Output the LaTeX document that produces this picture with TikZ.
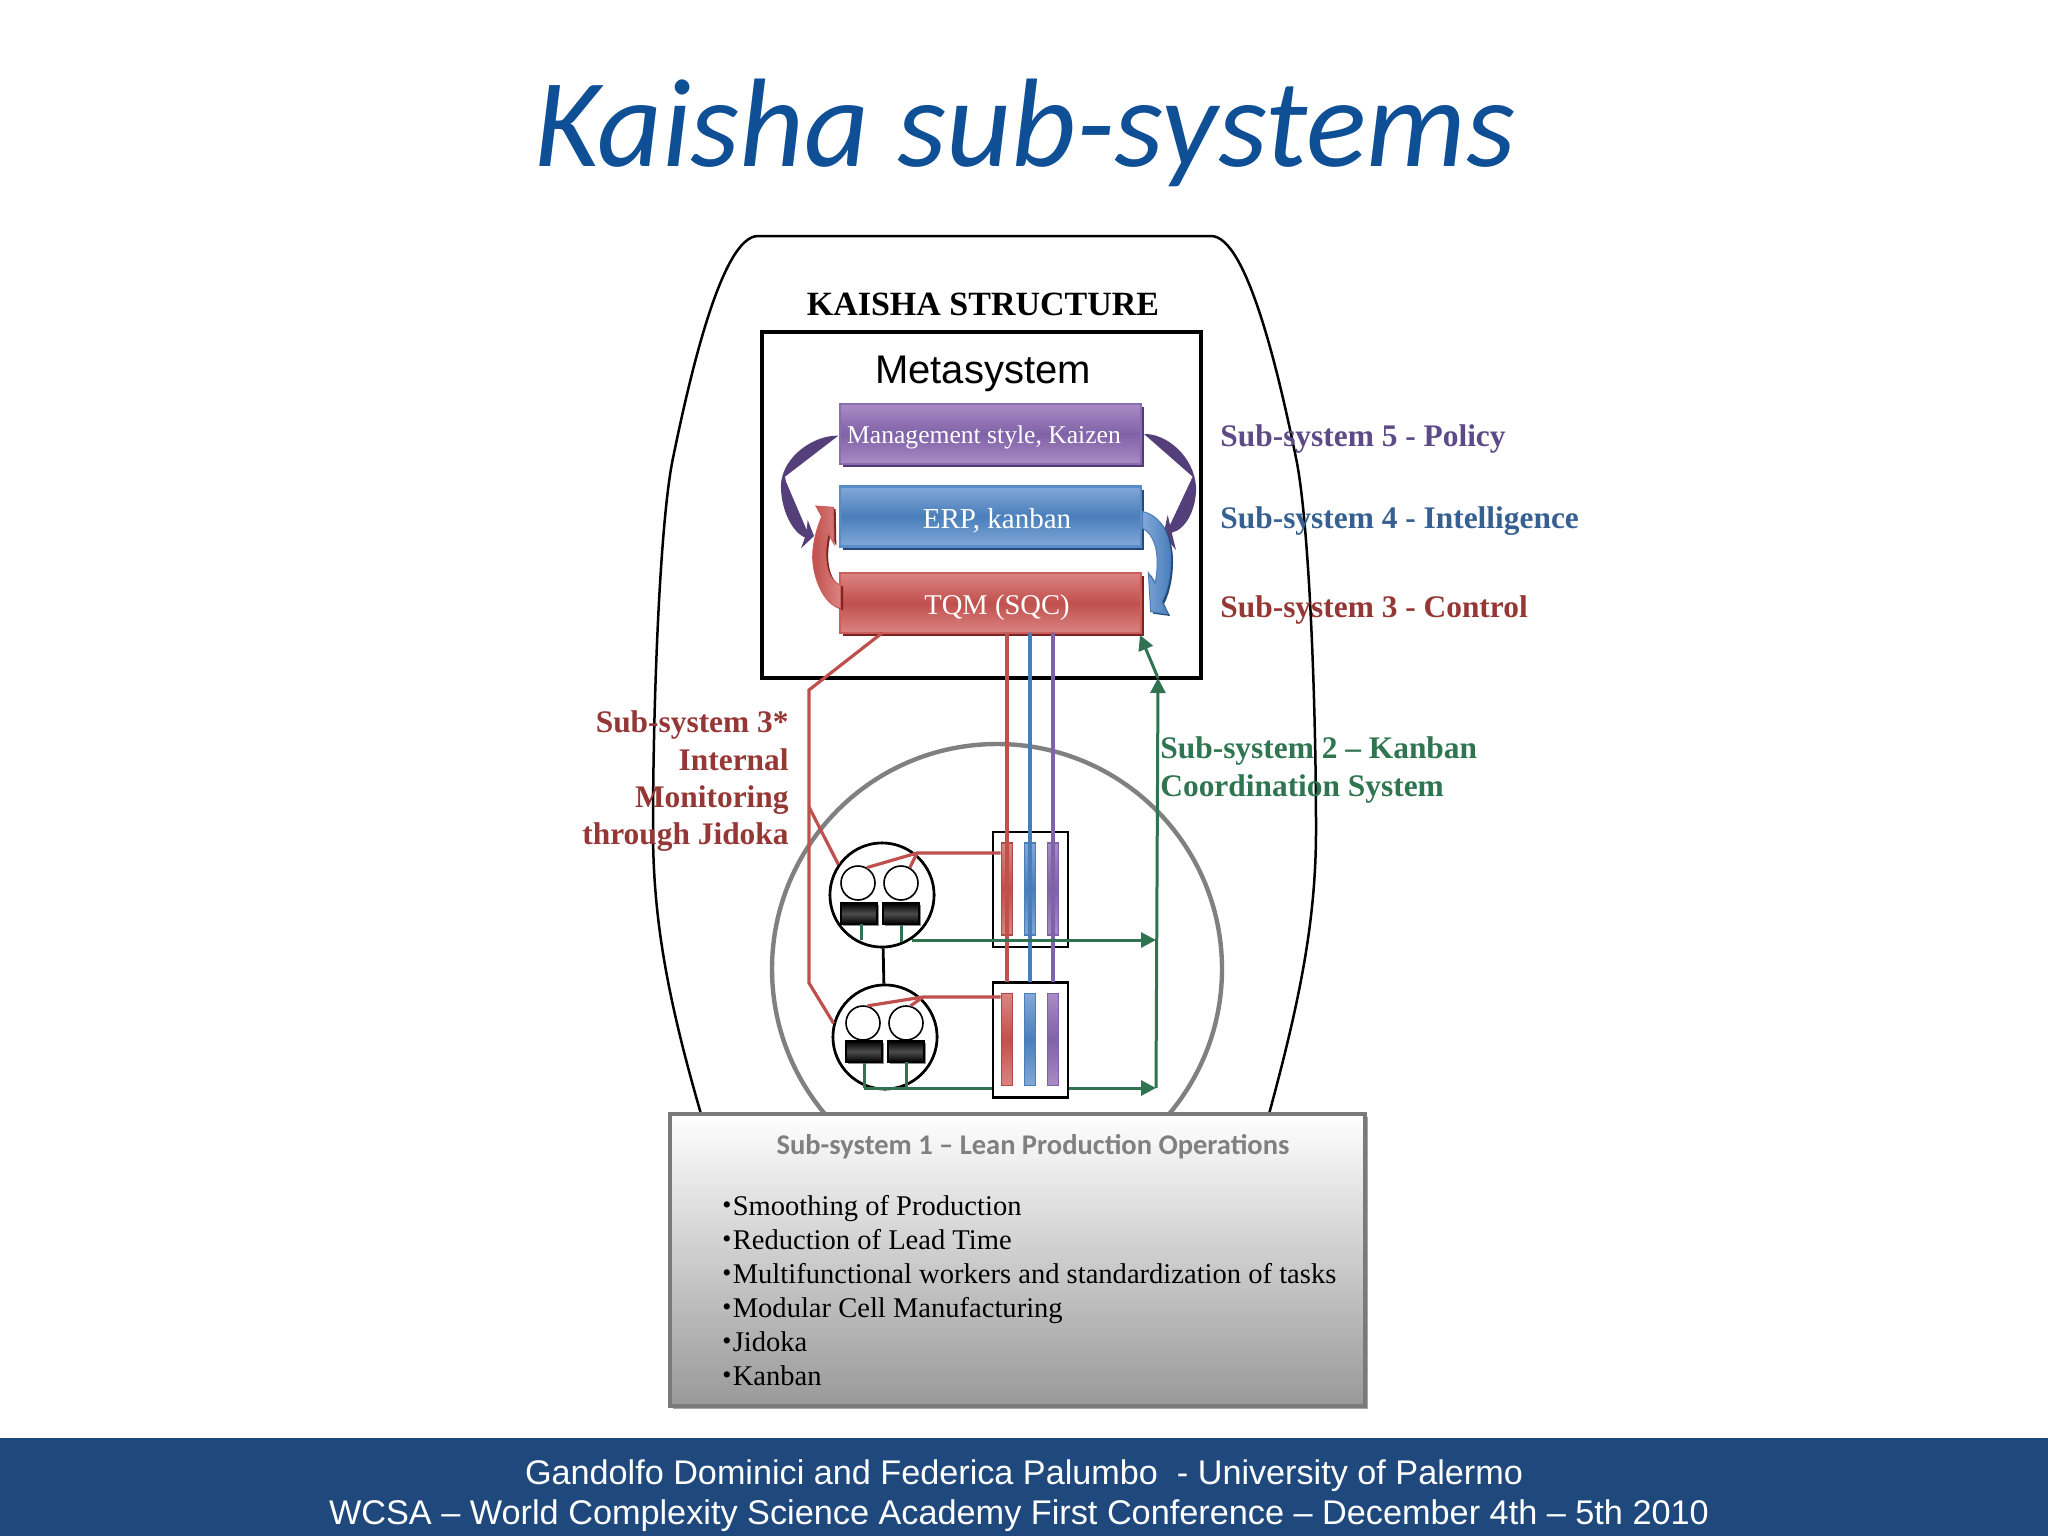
\documentclass[tikz,border=0pt]{standalone}
\usepackage{fontspec}
\setmainfont{Liberation Serif}
\newfontfamily\arialf{Liberation Sans}
\newfontfamily\calf{Carlito}
\usetikzlibrary{arrows.meta,shadows}
\definecolor{purpA}{HTML}{A98BC4}\definecolor{purpB}{HTML}{8062A8}\definecolor{purpE}{HTML}{8A6CB0}\definecolor{purpD}{HTML}{4F3B75}
\definecolor{bluA}{HTML}{82A8D8}\definecolor{bluB}{HTML}{4A7EBB}\definecolor{bluE}{HTML}{5A8CC8}\definecolor{bluD}{HTML}{254A78}
\definecolor{redA}{HTML}{DB8482}\definecolor{redB}{HTML}{C0504D}\definecolor{redE}{HTML}{CC5F5C}\definecolor{redD}{HTML}{7C2220}
\definecolor{txtP}{HTML}{5E4A86}\definecolor{txtB}{HTML}{376092}\definecolor{txtR}{HTML}{953735}\definecolor{txtG}{HTML}{2E7550}
\definecolor{lnG}{HTML}{2F7350}\definecolor{titleC}{HTML}{0F4F96}\definecolor{footC}{HTML}{1F497D}
\newcommand{\blt}{\makebox[5.2pt][l]{\raisebox{1.2pt}{\fontsize{13}{13}\selectfont•}}}
\newcommand{\bluepath}{(68,275) .. controls (120,285) and (152,340) .. (152,420) .. controls (152,480) and (135,530) .. (125,545) -- (143,582) -- (92,575) -- (85,458) -- (105,490) .. controls (118,430) and (115,350) .. (68,325) -- cycle}
\newcommand{\redpath}{(212,565) .. controls (160,555) and (128,470) .. (128,410) .. controls (128,370) and (140,325) .. (155,290) -- (138,258) -- (190,262) -- (192,372) -- (175,340) .. controls (160,400) and (165,480) .. (212,495) -- cycle}
\tikzset{
 x=0.5pt,y=-0.5pt,
 bigbar/.style={rectangle,draw,line width=1.2pt,inner sep=0pt,minimum width=150.5pt,minimum height=30pt,text=white},
 pbar/.style={bigbar,draw=purpE,top color=purpA,bottom color=purpA,middle color=purpB,general shadow={fill=purpD,shadow xshift=1.5pt,shadow yshift=-1.5pt}},
 bbar/.style={bigbar,draw=bluE,top color=bluA,bottom color=bluA,middle color=bluB,general shadow={fill=bluD,shadow xshift=1.5pt,shadow yshift=-1.5pt}},
 rbar/.style={bigbar,draw=redE,top color=redA,bottom color=redA,middle color=redB,general shadow={fill=redD,shadow xshift=1.5pt,shadow yshift=-1.5pt}},
 smallbar/.style={rectangle,line width=0.9pt,inner sep=0pt,minimum width=5.5pt,minimum height=46pt},
 sbr/.style={smallbar,draw=redB!90!black,top color=redA,bottom color=redA,middle color=redB},
 sbb/.style={smallbar,draw=bluB,top color=bluA,bottom color=bluA,middle color=bluB},
 sbp/.style={smallbar,draw=purpB,top color=purpA,bottom color=purpA,middle color=purpB},
 frame/.style={rectangle,draw=black,line width=1.3pt,fill=white,inner sep=0pt,minimum width=37.5pt,minimum height=57.5pt},
 cell/.style={circle,draw=black,line width=1.3pt,fill=white,inner sep=0pt,minimum size=52pt},
 worker/.style={circle,draw=black,line width=0.8pt,fill=white,inner sep=0pt,minimum size=17pt},
 mach/.style={rectangle,draw=black,line width=0.6pt,inner sep=0pt,minimum width=18pt,minimum height=10.5pt,top color=black,bottom color=black,middle color=black!70,general shadow={fill=black!45,shadow xshift=1pt,shadow yshift=-1pt}},
 rline/.style={draw=redB,line width=1.6pt},
 bline/.style={draw=bluB,line width=1.6pt},
 pline/.style={draw=purpB,line width=1.6pt},
 gline/.style={draw=lnG,line width=1.5pt},
 garrow/.style={gline,-{Triangle[length=7.5pt,width=7.5pt]}},
 lab/.style={font=\fontsize{15.7}{18}\selectfont\bfseries,inner sep=0pt},
 lst/.style={font=\fontsize{14.28}{17}\selectfont,inner sep=0pt,anchor=base west,text=black},
 zoomunits/.style={x=0.16667pt,y=-0.16667pt},
}
\begin{document}
\begin{tikzpicture}
\useasboundingbox (0,0) rectangle (2048,1536);
\fill[white] (0,0) rectangle (2048,1536);
% title
\node[inner sep=0pt,text=titleC,font=\fontsize{63}{66}\selectfont\calf\itshape] (title) at (1025,133) {Kaisha sub-systems};
% outer kaisha outline
\draw[black,line width=1.25pt] (701,1114) .. controls (668,1000) and (653,920) .. (653,830) .. controls (653,700) and (660,520) .. (673,458) .. controls (690,375) and (722,236) .. (758,236) -- (1211,236) .. controls (1247,236) and (1279,375) .. (1296,458) .. controls (1309,520) and (1316,700) .. (1316,830) .. controls (1316,920) and (1300,1000) .. (1269,1114);
% big grey circle
\node[circle,draw=black!50,line width=2.2pt,inner sep=0pt,minimum size=225pt] (plant) at (997,969) {};
% metasystem
\node[rectangle,draw=black,line width=1.7pt,inner sep=0pt,minimum width=219.5pt,minimum height=173pt] (meta) at (981.5,505) {};
\node[inner sep=0pt,font=\fontsize{20}{22}\selectfont\arialf] (metat) at (983,374) {Metasystem};
\node[inner sep=0pt,font=\fontsize{17}{18}\selectfont\bfseries] (kt) at (983,304) {KAISHA STRUCTURE};
% curved arrows (purple)
\begin{scope}[shift={(1120,420)},zoomunits]
\fill[purpD!90!purpB] (72,42) .. controls (140,40) and (222,110) .. (228,200) .. controls (230,270) and (195,330) .. (155,338) -- (168,390) -- (130,345) -- (143,285) -- (150,315) -- (218,170) -- cycle;
\end{scope}
\begin{scope}[shift={(770,420)},zoomunits]
\fill[purpD!90!purpB] (205,47) .. controls (130,45) and (40,110) .. (33,190) .. controls (30,270) and (70,340) .. (105,352) -- (93,385) -- (132,348) -- (113,300) -- (110,330) -- (48,185) -- (45,170) -- cycle;
\end{scope}
% bars
\node[pbar] (pur) at (990.5,434) {};
\node[bbar] (blu) at (990.5,516.5) {};
\node[rbar] (red) at (990.5,603) {};
\node[inner sep=0pt,text=white,font=\fontsize{12.8}{16}\selectfont] (purt) at (984,437) {Management style, Kaizen};
\node[inner sep=0pt,text=white,font=\fontsize{14.5}{16}\selectfont] (blut) at (997,521) {ERP, kanban};
\node[inner sep=0pt,text=white,font=\fontsize{14.3}{16}\selectfont] (redt) at (997,608) {TQM (SQC)};
% blue arrow
\begin{scope}[shift={(1120,420)},zoomunits]
\fill[bluD] [shift={(7,6)}] \bluepath;
\shade[left color=bluA,right color=bluB,draw=bluB,line width=0.5pt] \bluepath;
\end{scope}
% red arrow
\begin{scope}[shift={(770,420)},zoomunits]
\fill[redD] [shift={(7,5)}] \redpath;
\shade[left color=redB,right color=redA,draw=redE,line width=0.5pt] \redpath;
\end{scope}
% lower structure
\coordinate (f1) at (1156,940);
\coordinate (f2) at (1156,1088);
\coordinate (gtop) at (1158,678);
\coordinate (gtip) at (1140,635);
\coordinate (rs) at (882,633);
\coordinate (rk1) at (809,690);
\coordinate (rm) at (809,807);
\coordinate (rk2) at (809,983);
% worker cells
\node[cell] (c1) at (882,895) {};
\node[cell] (c2) at (885,1037) {};
\draw[black,line width=1.4pt] (c1) -- (c2);
\node[cell] (c1) at (882,895) {};
\node[cell] (c2) at (885,1037) {};
\node[worker] (w11) at (858,883) {};
\node[worker] (w12) at (901,883) {};
\node[worker] (w21) at (863,1023) {};
\node[worker] (w22) at (906,1023) {};
\node[mach] (m11) at (859,913.5) {};
\node[mach] (m12) at (901,913.5) {};
\node[mach] (m21) at (864,1051.5) {};
\node[mach] (m22) at (906,1051.5) {};
% frames and bars
\node[frame] (b1) at (1030.5,889.5) {};
\node[frame] (b2) at (1030.5,1040) {};
\node[sbr] (b1r) at (1007,889) {};
\node[sbb] (b1b) at (1030,889) {};
\node[sbp] (b1p) at (1053,889) {};
\node[sbr] (b2r) at (1007,1039.5) {};
\node[sbb] (b2b) at (1030,1039.5) {};
\node[sbp] (b2p) at (1053,1039.5) {};
% red jidoka lines
\draw[rline] (rs) -- (rk1) -- (rk2) -- (c2.165);
\draw[rline] (rm) -- (c1.145);
\coordinate (r1j) at (917,853);
\coordinate (r2j) at (923,997);
\draw[rline] (w11.60) -- (r1j) -- (b1r.west |- r1j);
\draw[rline] (w12.60) -- (r1j);
\draw[rline] (w21.75) -- (r2j) -- (b2r.west |- r2j);
\draw[rline] (w22.75) -- (r2j);
% vertical lines
\draw[rline] (1007,633) -- (1007,982);
\draw[bline] (1030,633) -- (1030,982);
\draw[pline] (1053,633) -- (1053,982);
% green lines
\draw[gline] (861,924) -- (861,940);
\draw[gline] (m12.south) -- (901,942);
\draw[garrow] (912,940) -- (f1);
\draw[gline] (m21.south) -- (864,1088);
\draw[gline] (906,1062) -- (906,1088);
\draw[gline] (864,1088) -- (b2.west |- f2);
\draw[garrow] (b2.east |- f2) -- (f2);
\draw[garrow] (f2) -- (gtop);
\draw[garrow] (gtop) -- (gtip);
% labels
\node[lab,text=txtP,anchor=west] (l5) at (1220,439) {Sub-system 5 - Policy};
\node[lab,text=txtB,anchor=west] (l4) at (1220,521) {Sub-system 4 - Intelligence};
\node[lab,text=txtR,anchor=west] (l3) at (1220,610) {Sub-system 3 - Control};
\node[lab,text=txtR,anchor=base east] (ls1) at (789,732) {Sub-system 3*};
\node[lab,text=txtR,anchor=base east] (ls2) at (789,770) {Internal};
\node[lab,text=txtR,anchor=base east] (ls3) at (789,807) {Monitoring};
\node[lab,text=txtR,anchor=base east] (ls4) at (789,844) {through Jidoka};
\node[lab,text=txtG,anchor=base west] (lk1) at (1160,758) {Sub-system 2 – Kanban};
\node[lab,text=txtG,anchor=base west] (lk2) at (1160,796) {Coordination System};
% lower box
\node[rectangle,draw=black!52,line width=2pt,inner sep=0pt,minimum width=347.5pt,minimum height=146pt,top color=white,bottom color=black!40,general shadow={fill=black!35,shadow xshift=1.6pt,shadow yshift=-1.6pt}] (ops) at (1017.5,1260) {};
\node[inner sep=0pt,text=black!50,font=\fontsize{14.25}{16}\selectfont\calf\bfseries] (opst) at (1033,1147) {Sub-system 1 – Lean Production Operations};
\node[lst] (o1) at (722,1215.5) {\blt Smoothing of Production};
\node[lst] (o2) at (722,1249.5) {\blt Reduction of Lead Time};
\node[lst] (o3) at (722,1283.5) {\blt Multifunctional workers and standardization of tasks};
\node[lst] (o4) at (722,1317.5) {\blt Modular Cell Manufacturing};
\node[lst] (o5) at (722,1351.5) {\blt Jidoka};
\node[lst] (o6) at (722,1385.5) {\blt Kanban};
% footer
\fill[footC] (0,1438) rectangle (2048,1536);
\node[inner sep=0pt,text=white,font=\fontsize{17.1}{20}\selectfont\arialf] (ft1) at (1024,1476) {Gandolfo Dominici and Federica Palumbo\ \ - University of Palermo};
\node[inner sep=0pt,text=white,font=\fontsize{17.13}{20}\selectfont\arialf] (ft2) at (1019,1516) {WCSA – World Complexity Science Academy First Conference – December 4th – 5th 2010};
\end{tikzpicture}
\end{document}
